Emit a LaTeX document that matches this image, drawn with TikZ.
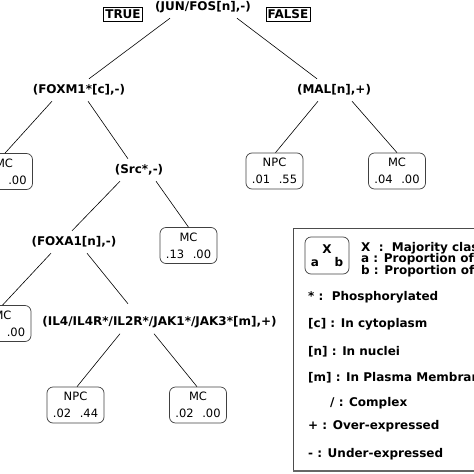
\documentclass[tikz,border=0pt]{standalone}
\usepackage{fontspec}
\setmainfont{DejaVu Sans}
\newcommand\splitfont{\fontsize{12}{14}\selectfont\bfseries}
\newcommand\leaffont{\fontsize{11.5}{17}\selectfont}
\newcommand\gap{\hspace{0.75em}}

\begin{document}
\begin{tikzpicture}[x=1pt,y=-1pt,
  split/.style={font=\splitfont,inner sep=0pt,text height=9pt,text depth=2.5pt,minimum height=22pt},
  leaf/.style={draw=black!75,rounded corners=6pt,line width=0.7pt,minimum width=57pt,minimum height=36pt,align=center,font=\leaffont,inner sep=0pt},
  flag/.style={draw,font=\splitfont,inner xsep=2pt,inner ysep=0pt,minimum height=14pt,text height=9pt,text depth=1pt},
  key/.style={anchor=west,font=\splitfont,inner sep=0pt,text height=9pt,text depth=2.5pt},
  edge/.style={line width=0.6pt}]
\useasboundingbox (0,0) rectangle (474,474);
\clip (0,0) rectangle (474,474);
\node (root) at (203,7) [split] {(JUN/FOS[n],-)};
\node (true) at (123,14) [flag] {TRUE};
\node (false) at (288,14) [flag] {FALSE};
\node (foxm) at (79,90) [split] {(FOXM1*[c],-)};
\node (mal) at (334,90) [split] {(MAL[n],+)};
\node (mc1) at (4,171.5) [leaf] {MC\\\phantom{.00}\gap.00};
\node (npc1) at (274.5,171) [leaf] {NPC\\.01\gap.55};
\node (mc2) at (397,171) [leaf] {MC\\.04\gap.00};
\node (src) at (139,170) [split] {(Src*,-)};
\node (mc3) at (188.5,245.5) [leaf] {MC\\.13\gap.00};
\node (foxa) at (74,242) [split] {(FOXA1[n],-)};
\node (mc4) at (2.5,323.5) [leaf] {MC\\\phantom{.00}\gap.00};
\node (il) at (159.5,322.5) [split] {(IL4/IL4R*/IL2R*/JAK1*/JAK3*[m],+)};
\node (npc2) at (75.5,405) [leaf] {NPC\\.02\gap.44};
\node (mc5) at (198,405) [leaf] {MC\\.02\gap.00};
\draw[edge] ([xshift=-33pt]root.south) -- ([xshift=10pt]foxm.north);
\draw[edge] ([xshift=34pt]root.south) -- ([xshift=-17pt]mal.north);
\draw[edge] ([xshift=-27pt]foxm.south) -- ([xshift=1pt]mc1.north);
\draw[edge] ([xshift=9pt]foxm.south) -- ([xshift=-11pt]src.north);
\draw[edge] ([xshift=-16pt]mal.south) -- ([xshift=1pt]npc1.north);
\draw[edge] ([xshift=18pt]mal.south) -- (mc2.north);
\draw[edge] ([xshift=-19pt]src.south) -- ([xshift=-2pt]foxa.north);
\draw[edge] ([xshift=17pt]src.south) -- (mc3.north);
\draw[edge] ([xshift=-23pt]foxa.south) -- (mc4.north);
\draw[edge] ([xshift=13pt]foxa.south) -- ([xshift=-31.5pt,yshift=7.5pt]il.north);
\draw[edge] ([xshift=-39.5pt]il.south) -- ([xshift=1.5pt]npc2.north);
\draw[edge] ([xshift=-5.5pt]il.south) -- ([xshift=-1pt]mc5.north);
\draw[black!70,line width=0.8pt] (293,228) rectangle (490,471);
\draw[black!60,line width=2pt] (293,471) -- (490,471);
\node (keybox) at (327,255.5) [draw=black!75,rounded corners=6pt,line width=0.7pt,minimum width=44pt,minimum height=37pt,align=center,font=\fontsize{12}{13}\selectfont\bfseries] {X\\a\hspace{1.3em}b};
\node (kx) at (361,248) [key] {X\ \ :\ \ Majority class};
\node (ka) at (361,259.5) [key] {a : Proportion of MC};
\node (kb) at (361,271) [key] {b : Proportion of NPC};
\node (kp) at (308,297) [key] {*\ :\ \ Phosphorylated};
\node (kc) at (308,324) [key] {[c] : In cytoplasm};
\node (kn) at (308,352) [key] {[n] : In nuclei};
\node (km) at (308,378) [key] {[m] : In Plasma Membrane};
\node (ks) at (330,403) [key] {/ : Complex};
\node (ko) at (308,426) [key] {+ : Over-expressed};
\node (ku) at (308,454) [key] {- : Under-expressed};
\end{tikzpicture}
\end{document}
